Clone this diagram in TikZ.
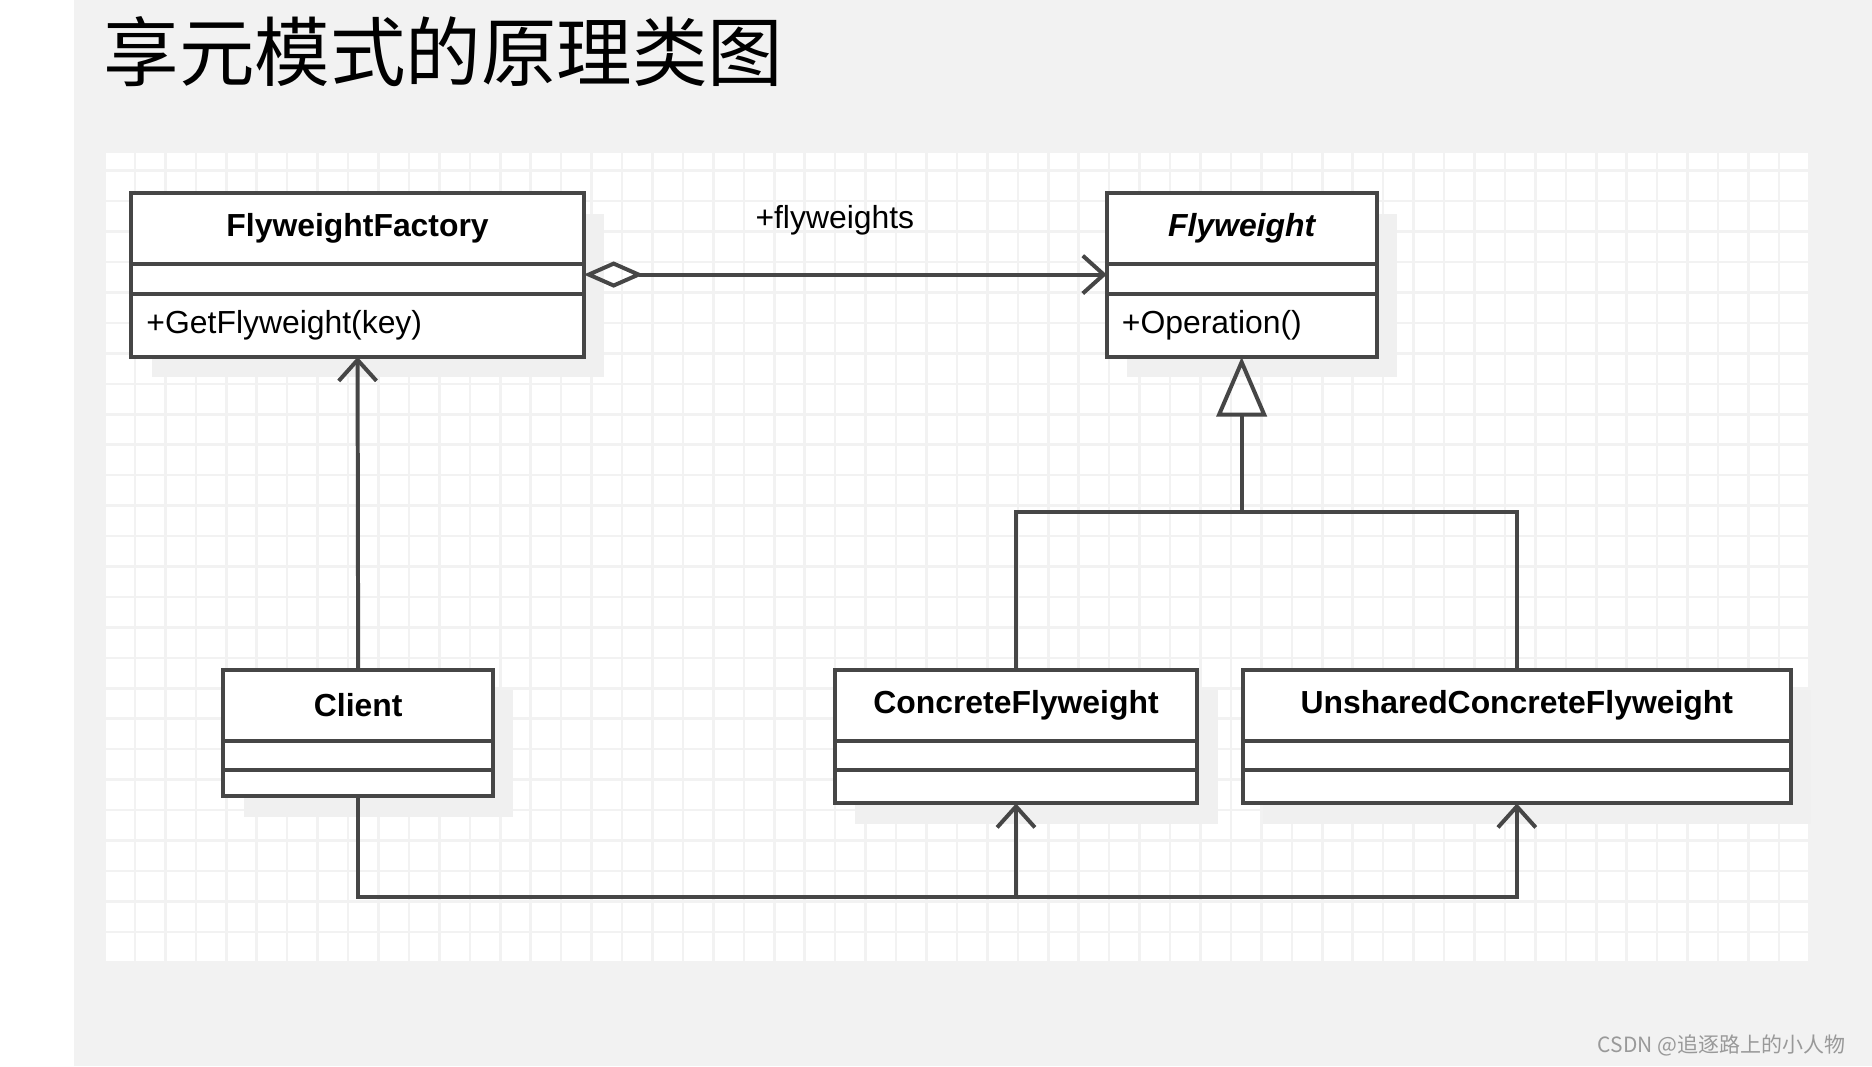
\documentclass[tikz,border=0pt]{standalone}
\usepackage{fontspec}
\setmainfont{Liberation Sans}
\newfontfamily\cjk{Noto Sans CJK SC}
\usetikzlibrary{arrows.meta}
\definecolor{pagegray}{RGB}{242,242,242}
\definecolor{umlline}{RGB}{70,70,70}
\tikzset{
  umlhead/.style={draw=umlline, line width=0.95pt, fill=white, inner sep=0pt,
    font=\fontsize{7.6}{10}\selectfont\bfseries},
  umlbody/.style={draw=umlline, line width=0.95pt},
  link/.style={draw=umlline, line width=0.95pt},
  open tip/.style={-{Straight Barb[length=5pt,width=9pt]}},
}
% name, left x, right x, top y, sep1 y, sep2 y, bottom y, title, operation
\newcommand{\umlclass}[9]{
  \fill[gray!12] (#2+0.17,#7-0.17) rectangle (#3+0.17,#4-0.17);
  \fill[white] (#2,#7) rectangle (#3,#4);
  \node[umlhead, minimum width={(#3-#2)*1cm}, minimum height={(#4-#5)*1cm}]
    (#1h) at ({(#2+#3)/2},{(#4+#5)/2}) {#8};
  \draw[umlbody] (#2,#7) rectangle (#3,#4);
  \draw[umlbody] (#2,#6) -- (#3,#6);
  \node[anchor=west, inner sep=0pt, font=\fontsize{7.6}{10}\selectfont]
    (#1o) at (#2+0.12,{(#6+#7)/2}) {#9};
  \coordinate (#1s) at ({(#2+#3)/2},#7);
}
\begin{document}
\begin{tikzpicture}
  \useasboundingbox (0,0) rectangle (15.68,8.93);
  % page and grid
  \fill[pagegray] (0.62,0) rectangle (15.68,8.93);
  \fill[white] (0.88,0.87) rectangle (15.16,7.65);
  \begin{scope}
    \clip (0.88,0.87) rectangle (15.16,7.65);
    \draw[gray!10, line width=0.6pt, shift={(1.13,0.87)}] (-1,-1) grid[step=0.255] (15,8);
  \end{scope}
  % title
  \node[anchor=west, inner sep=0pt, font=\cjk\fontsize{18}{20}\selectfont] (title) at (0.86,8.50) {享元模式的原理类图};
  % the classes
  \umlclass{ff}{1.10}{4.89}{7.31}{6.72}{6.47}{5.94}{FlyweightFactory}{+GetFlyweight(key)}
  \umlclass{fw}{9.27}{11.53}{7.31}{6.72}{6.47}{5.94}{\itshape Flyweight}{+Operation()}
  \umlclass{cl}{1.87}{4.13}{3.32}{2.72}{2.48}{2.26}{Client}{}
  \umlclass{cf}{6.99}{10.03}{3.32}{2.72}{2.48}{2.20}{ConcreteFlyweight}{}
  \umlclass{uc}{10.41}{15.00}{3.32}{2.72}{2.48}{2.20}{UnsharedConcreteFlyweight}{}
  % aggregation
  \coordinate (agga) at (4.89,6.63);
  \coordinate (aggb) at (9.27,6.63);
  \draw[link, {Diamond[open,length=0.5cm,width=0.22cm]}-{Straight Barb[length=5pt,width=9pt]}] (agga) -- (aggb)
    node[pos=0.48, above=0.2cm, font=\fontsize{7.6}{10}\selectfont] (fwlabel) {+flyweights};
  % inheritance
  \coordinate (join) at (10.40,4.64);
  \draw[link] (cfh.north) |- (join) -| (uch.north);
  \draw[link, -{Triangle[open,length=0.5cm,width=0.42cm]}, fill=white] (join) -- (fws);
  % uses
  \draw[link, open tip] (clh.north) -- (ffs);
  \coordinate (bend) at (8.51,1.42);
  \draw[link, open tip] (cls) |- (bend) -- (cfs);
  \draw[link, open tip] (bend) -| (ucs);
  % watermark
  \node[anchor=east, text=gray!80, font=\cjk\fontsize{5}{6}\selectfont] (mark) at (15.58,0.17) {CSDN @追逐路上的小人物};
\end{tikzpicture}
\end{document}
